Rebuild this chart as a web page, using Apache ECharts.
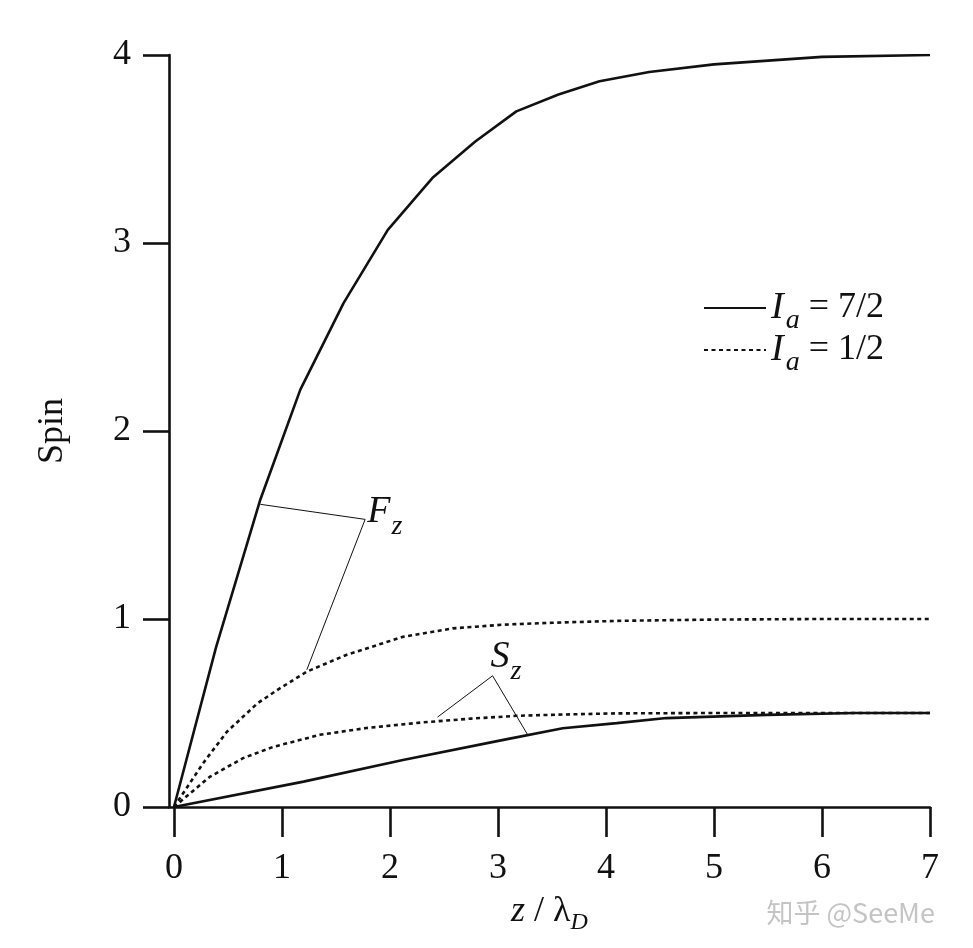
<!DOCTYPE html>
<html><head><meta charset="utf-8">
<script src="https://cdn.jsdelivr.net/npm/echarts@6/dist/echarts.min.js"></script>
<style>html,body{margin:0;padding:0;background:#fff}#c{width:973px;height:948px}</style>
</head><body><div id="c"></div>
<script>
// ---- data ----
const xTicks = [0, 1, 2, 3, 4, 5, 6, 7];
const yTicks = [0, 1, 2, 3, 4];
const legendNames = ['I_a = 7/2', 'I_a = 1/2'];

// F_z, I_a = 7/2 (solid)
const fz72X = [0, 0.39, 0.80, 1.17, 1.57, 1.98, 2.40, 2.79, 3.17, 3.56, 3.94, 4.4, 5.0, 6.0, 7.0];
const fz72Y = [0, 0.85, 1.636, 2.22, 2.68, 3.07, 3.35, 3.54, 3.70, 3.79, 3.86, 3.91, 3.95, 3.99, 4.0];
// S_z, I_a = 7/2 (solid)
const sz72X = [0, 1.2, 2.12, 3.05, 3.6, 4.1, 4.56, 5.49, 6.3, 7.0];
const sz72Y = [0, 0.135, 0.25, 0.357, 0.419, 0.446, 0.473, 0.49, 0.5, 0.5];
// F_z, I_a = 1/2 (dotted)
const fz12X = [0, 0.27, 0.49, 0.77, 0.95, 1.23, 1.6, 2.12, 2.58, 3.05, 3.5, 4.1, 5.0, 6.0, 7.0];
const fz12Y = [0, 0.233, 0.40, 0.55, 0.62, 0.72, 0.81, 0.905, 0.95, 0.97, 0.98, 0.99, 0.997, 1.0, 1.0];
// S_z, I_a = 1/2 (dotted)
const sz12X = [0, 0.33, 0.64, 0.92, 1.35, 1.78, 2.28, 2.75, 3.17, 3.6, 4.1, 5.0, 6.0, 7.0];
const sz12Y = [0, 0.16, 0.26, 0.32, 0.384, 0.42, 0.449, 0.47, 0.485, 0.492, 0.498, 0.5, 0.5, 0.5];

// annotation leader lines (data units)
const fzLeaderX = [0.80, 1.77, 1.23];
const fzLeaderY = [1.61, 1.53, 0.73];
const szLeaderX = [2.44, 2.95, 3.275];
const szLeaderY = [0.478, 0.698, 0.384];
// annotation label anchors (data units)
const fzLabelPos = [1.79, 1.57];
const szLabelPos = [2.93, 0.80];

// ---- helpers ----
const zip = (xs, ys) => xs.map((x, i) => [x, ys[i]]);
const SERIF = '"Liberation Serif", "DejaVu Serif", serif';
const INK = '#111';

const chart = echarts.init(document.getElementById('c'), null, {renderer: 'canvas'});

const curve = (name, xs, ys, dotted) => ({
  name, type: 'line', data: zip(xs, ys), showSymbol: false, symbol: 'none',
  smooth: false, silent: true, animation: false, z: 3,
  itemStyle: {color: INK},
  lineStyle: {color: INK, width: 2.6, type: dotted ? [4, 3.5] : 'solid', cap: 'butt'}
});
const leader = (xs, ys) => ({
  type: 'line', data: zip(xs, ys), showSymbol: false, symbol: 'none', silent: true,
  animation: false, z: 2, lineStyle: {color: INK, width: 1}
});
const labelRich = {
  b: {fontFamily: SERIF, fontStyle: 'italic', fontSize: 38, color: INK},
  s: {fontFamily: SERIF, fontStyle: 'italic', fontSize: 28, color: INK, padding: [30, 0, 0, 1]}
};
const annot = (pos, text) => ({
  type: 'scatter', data: [pos], symbolSize: 0, silent: true, animation: false,
  itemStyle: {color: INK, opacity: 1},
  label: {show: true, position: 'right', distance: 0, color: INK, opacity: 1, formatter: text, rich: labelRich}
});

const option = {
  backgroundColor: '#fff',
  animation: false,
  grid: {left: 169, right: 43, top: 55, bottom: 141, containLabel: false},
  xAxis: {
    type: 'value', min: -0.046, max: 7,
    axisLine: {show: true, onZero: false, lineStyle: {color: INK, width: 2.6}},
    axisTick: {show: true, inside: false, length: 30, customValues: xTicks, lineStyle: {color: INK, width: 2.6}},
    axisLabel: {customValues: xTicks, margin: 44, fontFamily: SERIF, fontSize: 36, color: INK},
    splitLine: {show: false},
    name: '{i|z}{n| / λ}{s|D}', nameLocation: 'middle', nameGap: 82,
    nameTextStyle: {rich: {
      i: {fontFamily: SERIF, fontStyle: 'italic', fontSize: 36, color: INK},
      n: {fontFamily: SERIF, fontSize: 36, color: INK},
      s: {fontFamily: SERIF, fontStyle: 'italic', fontSize: 24, color: INK, padding: [22, 0, 0, 0]}
    }}
  },
  yAxis: {
    type: 'value', min: 0, max: 4, interval: 1,
    axisLine: {show: true, onZero: false, lineStyle: {color: INK, width: 2.6}},
    axisTick: {show: true, inside: false, length: 26, lineStyle: {color: INK, width: 2.6}},
    axisLabel: {margin: 38, fontFamily: SERIF, fontSize: 36, color: INK},
    splitLine: {show: false},
    name: 'Spin', nameLocation: 'middle', nameGap: 98, nameRotate: 90,
    nameTextStyle: {fontFamily: SERIF, fontSize: 36, color: INK}
  },
  legend: {
    data: legendNames, orient: 'vertical', left: 698, top: 284, itemWidth: 62, itemHeight: 14,
    itemGap: -4, selectedMode: false, inactiveColor: INK,
    itemStyle: {opacity: 0},
    formatter: n => n === legendNames[0] ? '{i|I}{s|a}{t| = 7/2}' : '{i|I}{s|a}{t| = 1/2}',
    textStyle: {rich: {
      i: {fontFamily: SERIF, fontStyle: 'italic', fontSize: 38, color: INK},
      s: {fontFamily: SERIF, fontStyle: 'italic', fontSize: 28, color: INK, padding: [26, 0, 0, 2]},
      t: {fontFamily: SERIF, fontSize: 36, color: INK}
    }}
  },
  graphic: [{
    type: 'text', right: 38, bottom: 22, silent: true,
    style: {text: '知乎 @SeeMe', fontFamily: '"Noto Sans CJK SC", "Noto Sans", sans-serif', fontSize: 27, fill: '#c4c4c4'}
  }],
  series: [
    curve(legendNames[0], fz72X, fz72Y, false),
    curve(legendNames[0], sz72X, sz72Y, false),
    curve(legendNames[1], fz12X, fz12Y, true),
    curve(legendNames[1], sz12X, sz12Y, true),
    leader(fzLeaderX, fzLeaderY),
    leader(szLeaderX, szLeaderY),
    annot(fzLabelPos, '{b|F}{s|z}'),
    annot(szLabelPos, '{b|S}{s|z}')
  ]
};
chart.setOption(option);
</script></body></html>
